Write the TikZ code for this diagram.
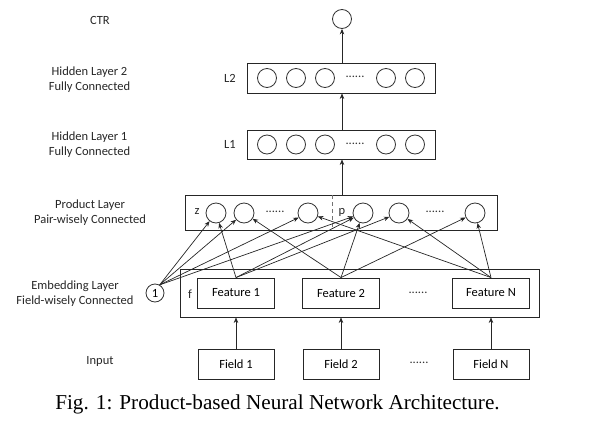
\documentclass[tikz,border=0pt]{standalone}
\usepackage{fontspec}
\setmainfont{Carlito}
\newfontfamily\capfont{Liberation Serif}
\usetikzlibrary{arrows.meta}
\begin{document}
\begin{tikzpicture}[x=1pt,y=-1pt,
  lbl/.style={font=\fontsize{12.5}{15}\selectfont, align=center, inner sep=0, text=black!85},
  neuron/.style={circle, draw=black!80, minimum size=19pt, inner sep=0, line width=0.8pt},
  layerbox/.style={draw=black!85, line width=0.9pt, inner sep=0},
  featbox/.style={draw=black!85, line width=0.9pt, minimum width=77pt, minimum height=30pt, inner sep=0, font=\fontsize{12.5}{15}\selectfont},
  arr/.style={-{Stealth[length=5.5pt,width=4.5pt]}, line width=0.7pt, draw=black!85},
  dotsl/.style={font=\fontsize{12.5}{15}\selectfont, inner sep=0, text=black!80}
]
\useasboundingbox (0,0) rectangle (595,434);

% left labels
\node[lbl] (tctr) at (100,20) {CTR};
\node[lbl] (th2) at (89.5,79.5) {Hidden Layer 2\\Fully Connected};
\node[lbl] (th1) at (89.5,144.5) {Hidden Layer 1\\Fully Connected};
\node[lbl] (tpl) at (90,213) {Product Layer\\Pair-wisely Connected};
\node[lbl] (tel) at (75,293.5) {Embedding Layer\\Field-wisely Connected};
\node[lbl] (tin) at (100,361) {Input};

% CTR
\node[neuron] (ctr) at (342,19) {};

% L2
\node[layerbox, minimum width=188pt, minimum height=30pt] (L2) at (341,78) {};
\node[lbl] (tL2) at (230,78) {L2};
\foreach \x [count=\i] in {267,296,325,386,415} \node[neuron] (a\i) at (\x,78) {};
\node[dotsl] (ad) at (355,77) {......};

% L1
\node[layerbox, minimum width=188pt, minimum height=29pt] (L1) at (341,144.5) {};
\node[lbl] (tL1) at (230,144.5) {L1};
\foreach \x [count=\i] in {267,296,325,386,415} \node[neuron] (b\i) at (\x,144.5) {};
\node[dotsl] (bd) at (355,143.5) {......};

% Product layer
\node[layerbox, minimum width=312pt, minimum height=35pt] (PL) at (341,212.5) {};
\draw[dashed, draw=black!55, line width=0.9pt, dash pattern=on 4pt off 3pt] (332,195) coordinate (dA) -- (332,230) coordinate (dB);
\node[lbl] (tz) at (197,212) {z};
\node[lbl] (tp) at (342,212) {p};
\node[neuron, minimum size=20pt] (z1) at (216,213) {};
\node[neuron, minimum size=20pt] (z2) at (244,213) {};
\node[dotsl] (zd) at (275,212) {......};
\node[neuron, minimum size=20pt] (z3) at (308,213) {};
\node[neuron, minimum size=20pt] (p1) at (363,213) {};
\node[neuron, minimum size=20pt] (p2) at (399,213) {};
\node[dotsl] (pd) at (435,212) {......};
\node[neuron, minimum size=20pt] (p3) at (475,213) {};

% Embedding layer
\node[layerbox, minimum width=359pt, minimum height=48pt] (EL) at (359.5,293) {};
\node[lbl] (tf) at (190,294) {f};
\node[featbox] (f1) at (236,293) {Feature 1};
\node[featbox] (f2) at (341,293) {Feature 2};
\node[dotsl] (fd) at (418,293) {......};
\node[featbox] (fN) at (491,293) {Feature N};
\node[neuron, minimum size=18pt, font=\fontsize{12.5}{15}\selectfont] (one) at (155,293) {1};

% Input
\node[featbox, minimum width=76pt] (d1) at (236,364) {Field 1};
\node[featbox, minimum width=76pt] (d2) at (341,364) {Field 2};
\node[dotsl] (dd) at (419,363) {......};
\node[featbox, minimum width=76pt] (dN) at (491,364) {Field N};

% vertical arrows
\draw[arr] (L2.north -| ctr) -- (ctr);
\draw[arr] (L1.north -| ctr) -- (L2.south -| ctr);
\draw[arr] (PL.north -| ctr) -- (L1.south -| ctr);
\draw[arr] (d1.north) -- (EL.south -| d1);
\draw[arr] (d2.north) -- (EL.south -| d2);
\draw[arr] (dN.north) -- (EL.south -| dN);

% product connections
\foreach \t in {z1,z2,z3,p1} \draw[arr] (one.60) -- (\t);
\foreach \t in {z1,p1,p2} \draw[arr] (f1.north) -- (\t);
\foreach \t in {z2,p1,p3} \draw[arr] (f2.north) -- (\t);
\foreach \t in {z3,p2,p3} \draw[arr] (fN.north) -- (\t);

% caption
\node[inner sep=0] (cap) at (277.5,404) {\capfont\fontsize{21.2}{25}\selectfont Fig. 1: Product-based Neural Network Architecture.};
\end{tikzpicture}
\end{document}
